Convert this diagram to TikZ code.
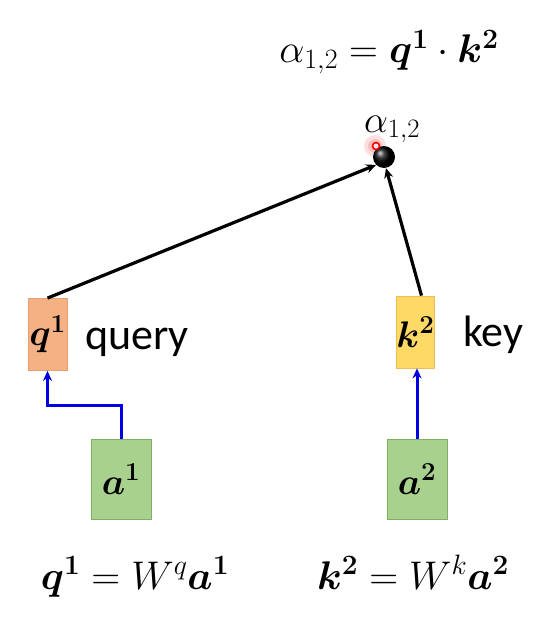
\RequirePackage{fix-cm}
\documentclass[tikz,border=0pt]{standalone}
\usepackage{amsmath}
\usepackage{bm}
\usepackage{fontspec}
\newfontfamily\carl{Carlito}
\usetikzlibrary{arrows.meta,shadings}
\definecolor{qfill}{HTML}{F4B183}
\definecolor{qdraw}{HTML}{E8A070}
\definecolor{kfill}{HTML}{FFD966}
\definecolor{kdraw}{HTML}{EBC050}
\definecolor{afill}{HTML}{A9D18E}
\definecolor{adraw}{HTML}{7FAF63}
\definecolor{arrblue}{HTML}{0000E0}
\tikzset{
  vec/.style={draw, line width=0.8pt, minimum width=#1, inner sep=0pt},
  qbox/.style={vec=39pt, minimum height=72pt, fill=qfill, draw=qdraw},
  kbox/.style={vec=37pt, minimum height=72pt, fill=kfill, draw=kdraw},
  abox/.style={vec=60pt, minimum height=80pt, fill=afill, draw=adraw},
  boxmath/.style={font=\fontsize{37}{42}\selectfont},
  word/.style={font=\carl\fontsize{44}{48}\selectfont, anchor=base west, inner sep=0pt},
  formula/.style={font=\fontsize{40}{46}\selectfont, inner sep=0pt, anchor=base},
  bluearr/.style={draw=arrblue, line width=3pt, -{Stealth[length=10pt,width=9pt]}},
  blackarr/.style={draw=black, line width=3.2pt, -{Stealth[length=10pt,width=9pt]}}
}
\begin{document}
\begin{tikzpicture}[x=1pt,y=-1pt]
\useasboundingbox (0,0) rectangle (554,626);
% boxes
\node[qbox, boxmath] (q1) at (47.5,334.5) {$\bm{q}^{\bm{1}}$};
\node[kbox, boxmath] (k2) at (415.5,332) {$\bm{k}^{\bm{2}}$};
\node[abox, boxmath] (a1) at (121,479) {$\bm{a}^{\bm{1}}$};
\node[abox, boxmath] (a2) at (417,479) {$\bm{a}^{\bm{2}}$};
% labels
\node[word] (qlab) at (85,349) {query};
\node[word] (klab) at (463,346) {key};
% dot
\fill[red, opacity=0.12] (375,146) circle (11);
\fill[red, opacity=0.15] (375,146) circle (7);
\node[circle, minimum size=22pt, inner sep=0pt, shading=ball, ball color=black] (dot) at (384,157) {};
\node[circle, draw=red, line width=1.6pt, minimum size=7pt, inner sep=0pt, fill=red!10] (red) at (376,146) {};
\node[formula, font=\fontsize{38}{42}\selectfont, anchor=base west] (alab) at (364,132) {$\alpha_{1,2}$};
% formulas
\node[formula] (top) at (389,63) {$\alpha_{1,2} = \bm{q}^{\bm{1}} \cdot \bm{k}^{\bm{2}}$};
\node[formula] (fq) at (135,589) {$\bm{q}^{\bm{1}} = W^{q}\bm{a}^{\bm{1}}$};
\node[formula] (fk) at (413,589) {$\bm{k}^{\bm{2}} = W^{k}\bm{a}^{\bm{2}}$};
% connectors
\coordinate (bend) at (121,405);
\draw[bluearr] (a1.north) -- (bend) -| (q1.south);
\draw[bluearr] (a2.north) -- (a2.north |- k2.south);
\draw[blackarr] ([xshift=0pt]q1.north) -- (dot.south west);
\draw[blackarr] ([xshift=6pt]k2.north) -- ([xshift=2pt]dot.south);
\end{tikzpicture}
\end{document}
